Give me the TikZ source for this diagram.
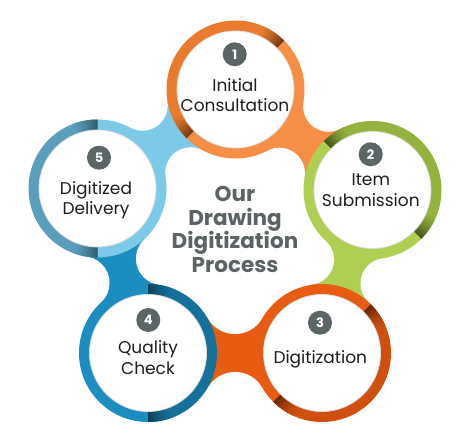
\documentclass[tikz,border=0pt]{standalone}
\usepackage{fontspec}
\setmainfont{Poppins}
\usetikzlibrary{calc}

\definecolor{oneL}{HTML}{F78E45}
\definecolor{oneD}{HTML}{E97A2E}
\definecolor{oneS}{HTML}{6A3512}
\definecolor{twoL}{HTML}{AFCF52}
\definecolor{twoD}{HTML}{93B23E}
\definecolor{twoS}{HTML}{3D4C16}
\definecolor{thrL}{HTML}{E85C12}
\definecolor{thrD}{HTML}{CF4F0E}
\definecolor{thrS}{HTML}{5A2407}
\definecolor{fouL}{HTML}{1C8DC0}
\definecolor{fouD}{HTML}{15709A}
\definecolor{fouS}{HTML}{0B3A50}
\definecolor{fivL}{HTML}{7CC9E8}
\definecolor{fivD}{HTML}{5B9EBB}
\definecolor{fivS}{HTML}{2C5668}
\definecolor{badgecol}{HTML}{5C6566}
\definecolor{titlecol}{HTML}{5C6364}
\definecolor{labelcol}{HTML}{1E1E1E}

\pgfdeclareradialshading{discshade}{\pgfpoint{-10bp}{10bp}}{color(0bp)=(white); color(28bp)=(white); color(52bp)=(black!6); color(70bp)=(black!12)}

\newcommand{\Rout}{69}
\newcommand{\Rinn}{58.5}

\newcommand{\annseg}[4]{%
  \fill[#4] ($(#1)+(#2:\Rout pt)$) arc[start angle=#2, end angle=#3, radius=\Rout pt]
    -- ($(#1)+(#3:\Rinn pt)$) arc[start angle=#3, end angle=#2, radius=\Rinn pt] -- cycle;}

\newcommand{\ringdraw}[5]{%
  \annseg{#1}{#2+180}{#2+360}{#3}
  \annseg{#1}{#2}{#2+180}{#4}
  \foreach \k in {13,12,...,0}{
    \pgfmathsetmacro\pc{90*(1-\k/14)^1.4}
    \pgfmathsetmacro\aa{#2+\k*1.5}
    \pgfmathsetmacro\ab{#2+\k*1.5+1.7}
    \pgfmathsetmacro\ac{#2+180-\k*1.5-1.7}
    \pgfmathsetmacro\ad{#2+180-\k*1.5}
    \annseg{#1}{\aa}{\ab}{#5!\pc!#4}
    \annseg{#1}{\ac}{\ad}{#5!\pc!#4}
  }}

\newcommand{\neck}[5]{%
  \fill[#3] (#1) -- ($(#1)!.5!(#2)!#4pt!90:(#2)$) -- (#2) -- ($(#1)!.5!(#2)!#4pt!-90:(#2)$) -- cycle;
  \fill[white] ($(#1)!.5!(#2)!#4pt!90:(#2)$) circle (#5pt);
  \fill[white] ($(#1)!.5!(#2)!#4pt!-90:(#2)$) circle (#5pt);}

\tikzset{
  badge/.style={circle, fill=badgecol, minimum size=24pt, inner sep=0pt, text=white,
    font=\fontsize{13}{13}\selectfont\bfseries},
  lbl/.style={align=center, inner sep=0pt, text=labelcol, font=\fontsize{17}{20.5}\selectfont},
  ttl/.style={align=center, inner sep=0pt, text=titlecol, font=\fontsize{21.5}{23.5}\selectfont\bfseries}
}

\begin{document}
\begin{tikzpicture}[x=1pt,y=1pt]
\useasboundingbox (0,0) rectangle (474,447);
\fill[white] (0,0) rectangle (474,447);

\coordinate (c1) at (235.5,357.5);
\coordinate (c2) at (372.5,257);
\coordinate (c3) at (322,94);
\coordinate (c4) at (148,94);
\coordinate (c5) at (97.5,258.5);

% necks
\neck{c1}{c2}{oneL}{41.6}{25.6}
\neck{c2}{c3}{twoL}{40.4}{25.4}
\neck{c3}{c4}{thrL}{50.7}{31.7}
\neck{c4}{c5}{fouL}{41.5}{26.5}
\neck{c5}{c1}{fivL}{41.5}{25.5}

% rings
\ringdraw{c1}{45}{oneL}{oneD}{oneS}
\ringdraw{c2}{-45}{twoL}{twoD}{twoS}
\ringdraw{c3}{-135}{thrL}{thrD}{thrS}
\ringdraw{c4}{-90}{fouL}{fouD}{fouS}
\ringdraw{c5}{90}{fivL}{fivD}{fivS}

% discs
\foreach \c in {c1,c2,c3,c4,c5}{
  \shade[shading=discshade] (\c) circle (\Rinn pt);
  \draw[black!14, line width=0.8pt] (\c) circle (\Rinn pt);
}

% badges
\node[badge] (b1) at (234.7,392.7) {1};
\node[badge] (b2) at (370.7,292.7) {2};
\node[badge] (b3) at (320,124.3) {3};
\node[badge] (b4) at (148.3,127) {4};
\node[badge] (b5) at (99,289.3) {5};

% labels
\node[lbl] (t1) at (235,351.8) {Initial\\Consultation};
\node[lbl] (t2) at (370.8,256.7) {Item\\Submission};
\node[lbl] (t3) at (320.3,88) {Digitization};
\node[lbl] (t4) at (148,89.5) {Quality\\Check};
\node[lbl] (t5) at (96,247) {Digitized\\Delivery};

% title
\node[ttl] (title) at (235,217.7) {Our\\Drawing\\Digitization\\Process};
\end{tikzpicture}
\end{document}
